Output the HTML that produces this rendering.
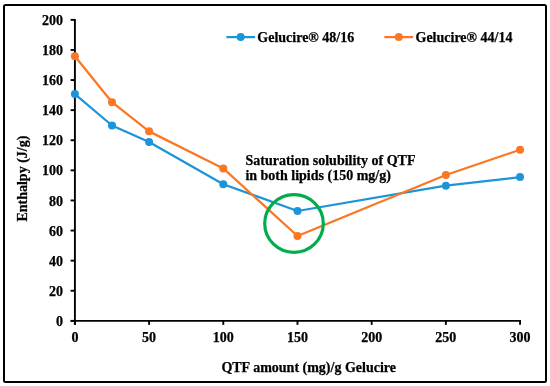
<!DOCTYPE html>
<html><head><meta charset="utf-8"><style>
html,body{margin:0;padding:0;background:#fff;}
svg{display:block;}
</style></head><body>
<svg width="550" height="386" viewBox="0 0 550 386">
<rect x="4" y="5" width="542" height="377" fill="none" stroke="#000" stroke-width="2" rx="1.5"/>
<line x1="74.90" y1="18.95" x2="74.90" y2="324.85" stroke="#000" stroke-width="1.9"/>
<line x1="70.60" y1="320.85" x2="521.00" y2="320.85" stroke="#000" stroke-width="1.9"/>
<line x1="70.60" y1="320.85" x2="74.90" y2="320.85" stroke="#000" stroke-width="1.9"/>
<text x="63" y="325.95" text-anchor="end" font-size="14" font-family="Liberation Serif, Times New Roman, serif" font-weight="bold" stroke="#000" stroke-width="0.25">0</text>
<line x1="70.60" y1="290.75" x2="74.90" y2="290.75" stroke="#000" stroke-width="1.9"/>
<text x="63" y="295.85" text-anchor="end" font-size="14" font-family="Liberation Serif, Times New Roman, serif" font-weight="bold" stroke="#000" stroke-width="0.25">20</text>
<line x1="70.60" y1="260.65" x2="74.90" y2="260.65" stroke="#000" stroke-width="1.9"/>
<text x="63" y="265.75" text-anchor="end" font-size="14" font-family="Liberation Serif, Times New Roman, serif" font-weight="bold" stroke="#000" stroke-width="0.25">40</text>
<line x1="70.60" y1="230.55" x2="74.90" y2="230.55" stroke="#000" stroke-width="1.9"/>
<text x="63" y="235.65" text-anchor="end" font-size="14" font-family="Liberation Serif, Times New Roman, serif" font-weight="bold" stroke="#000" stroke-width="0.25">60</text>
<line x1="70.60" y1="200.45" x2="74.90" y2="200.45" stroke="#000" stroke-width="1.9"/>
<text x="63" y="205.55" text-anchor="end" font-size="14" font-family="Liberation Serif, Times New Roman, serif" font-weight="bold" stroke="#000" stroke-width="0.25">80</text>
<line x1="70.60" y1="170.35" x2="74.90" y2="170.35" stroke="#000" stroke-width="1.9"/>
<text x="63" y="175.45" text-anchor="end" font-size="14" font-family="Liberation Serif, Times New Roman, serif" font-weight="bold" stroke="#000" stroke-width="0.25">100</text>
<line x1="70.60" y1="140.25" x2="74.90" y2="140.25" stroke="#000" stroke-width="1.9"/>
<text x="63" y="145.35" text-anchor="end" font-size="14" font-family="Liberation Serif, Times New Roman, serif" font-weight="bold" stroke="#000" stroke-width="0.25">120</text>
<line x1="70.60" y1="110.15" x2="74.90" y2="110.15" stroke="#000" stroke-width="1.9"/>
<text x="63" y="115.25" text-anchor="end" font-size="14" font-family="Liberation Serif, Times New Roman, serif" font-weight="bold" stroke="#000" stroke-width="0.25">140</text>
<line x1="70.60" y1="80.05" x2="74.90" y2="80.05" stroke="#000" stroke-width="1.9"/>
<text x="63" y="85.15" text-anchor="end" font-size="14" font-family="Liberation Serif, Times New Roman, serif" font-weight="bold" stroke="#000" stroke-width="0.25">160</text>
<line x1="70.60" y1="49.95" x2="74.90" y2="49.95" stroke="#000" stroke-width="1.9"/>
<text x="63" y="55.05" text-anchor="end" font-size="14" font-family="Liberation Serif, Times New Roman, serif" font-weight="bold" stroke="#000" stroke-width="0.25">180</text>
<line x1="70.60" y1="19.85" x2="74.90" y2="19.85" stroke="#000" stroke-width="1.9"/>
<text x="63" y="24.95" text-anchor="end" font-size="14" font-family="Liberation Serif, Times New Roman, serif" font-weight="bold" stroke="#000" stroke-width="0.25">200</text>
<line x1="74.90" y1="320.85" x2="74.90" y2="324.85" stroke="#000" stroke-width="1.9"/>
<text x="74.90" y="342" text-anchor="middle" font-size="14" font-family="Liberation Serif, Times New Roman, serif" font-weight="bold" stroke="#000" stroke-width="0.25">0</text>
<line x1="149.09" y1="320.85" x2="149.09" y2="324.85" stroke="#000" stroke-width="1.9"/>
<text x="149.09" y="342" text-anchor="middle" font-size="14" font-family="Liberation Serif, Times New Roman, serif" font-weight="bold" stroke="#000" stroke-width="0.25">50</text>
<line x1="223.28" y1="320.85" x2="223.28" y2="324.85" stroke="#000" stroke-width="1.9"/>
<text x="223.28" y="342" text-anchor="middle" font-size="14" font-family="Liberation Serif, Times New Roman, serif" font-weight="bold" stroke="#000" stroke-width="0.25">100</text>
<line x1="297.48" y1="320.85" x2="297.48" y2="324.85" stroke="#000" stroke-width="1.9"/>
<text x="297.48" y="342" text-anchor="middle" font-size="14" font-family="Liberation Serif, Times New Roman, serif" font-weight="bold" stroke="#000" stroke-width="0.25">150</text>
<line x1="371.67" y1="320.85" x2="371.67" y2="324.85" stroke="#000" stroke-width="1.9"/>
<text x="371.67" y="342" text-anchor="middle" font-size="14" font-family="Liberation Serif, Times New Roman, serif" font-weight="bold" stroke="#000" stroke-width="0.25">200</text>
<line x1="445.86" y1="320.85" x2="445.86" y2="324.85" stroke="#000" stroke-width="1.9"/>
<text x="445.86" y="342" text-anchor="middle" font-size="14" font-family="Liberation Serif, Times New Roman, serif" font-weight="bold" stroke="#000" stroke-width="0.25">250</text>
<line x1="520.05" y1="320.85" x2="520.05" y2="324.85" stroke="#000" stroke-width="1.9"/>
<text x="520.05" y="342" text-anchor="middle" font-size="14" font-family="Liberation Serif, Times New Roman, serif" font-weight="bold" stroke="#000" stroke-width="0.25">300</text>
<text x="221.4" y="371.7" font-size="14" font-family="Liberation Serif, Times New Roman, serif" font-weight="bold" stroke="#000" stroke-width="0.25">QTF amount (mg)/g Gelucire</text>
<text transform="translate(27,221.6) rotate(-90)" font-size="14" font-family="Liberation Serif, Times New Roman, serif" font-weight="bold" stroke="#000" stroke-width="0.25">Enthalpy (J/g)</text>
<polyline points="74.90,94.05 112.00,125.50 149.09,141.91 223.28,184.20 297.48,210.99 445.86,185.70 520.05,177.12" fill="none" stroke="#1c94d8" stroke-width="2.25" stroke-linejoin="round"/>
<circle cx="74.90" cy="94.05" r="4" fill="#1c94d8"/>
<circle cx="112.00" cy="125.50" r="4" fill="#1c94d8"/>
<circle cx="149.09" cy="141.91" r="4" fill="#1c94d8"/>
<circle cx="223.28" cy="184.20" r="4" fill="#1c94d8"/>
<circle cx="297.48" cy="210.99" r="4" fill="#1c94d8"/>
<circle cx="445.86" cy="185.70" r="4" fill="#1c94d8"/>
<circle cx="520.05" cy="177.12" r="4" fill="#1c94d8"/>
<polyline points="74.90,56.27 112.00,102.17 149.09,131.37 223.28,168.39 297.48,235.97 445.86,175.02 520.05,149.73" fill="none" stroke="#fa7724" stroke-width="2.25" stroke-linejoin="round"/>
<circle cx="74.90" cy="56.27" r="4" fill="#fa7724"/>
<circle cx="112.00" cy="102.17" r="4" fill="#fa7724"/>
<circle cx="149.09" cy="131.37" r="4" fill="#fa7724"/>
<circle cx="223.28" cy="168.39" r="4" fill="#fa7724"/>
<circle cx="297.48" cy="235.97" r="4" fill="#fa7724"/>
<circle cx="445.86" cy="175.02" r="4" fill="#fa7724"/>
<circle cx="520.05" cy="149.73" r="4" fill="#fa7724"/>
<line x1="226.4" y1="37.1" x2="255.1" y2="37.1" stroke="#1c94d8" stroke-width="2.25"/>
<circle cx="240.7" cy="37.1" r="4" fill="#1c94d8"/>
<text x="257.3" y="42" font-size="14" font-family="Liberation Serif, Times New Roman, serif" font-weight="bold" stroke="#000" stroke-width="0.25">Gelucire® 48/16</text>
<line x1="384.4" y1="37.1" x2="413.1" y2="37.1" stroke="#fa7724" stroke-width="2.25"/>
<circle cx="398.8" cy="37.1" r="4" fill="#fa7724"/>
<text x="415.5" y="42" font-size="14" font-family="Liberation Serif, Times New Roman, serif" font-weight="bold" stroke="#000" stroke-width="0.25">Gelucire® 44/14</text>
<text x="245.5" y="164.6" font-size="14" font-family="Liberation Serif, Times New Roman, serif" font-weight="bold" stroke="#000" stroke-width="0.25">Saturation solubility of QTF</text>
<text x="245.4" y="180.3" font-size="14" font-family="Liberation Serif, Times New Roman, serif" font-weight="bold" stroke="#000" stroke-width="0.25">in both lipids (150 mg/g)</text>
<ellipse cx="294" cy="223.5" rx="29.3" ry="28.8" fill="none" stroke="#00ad4c" stroke-width="3.2"/>
</svg>
</body></html>
